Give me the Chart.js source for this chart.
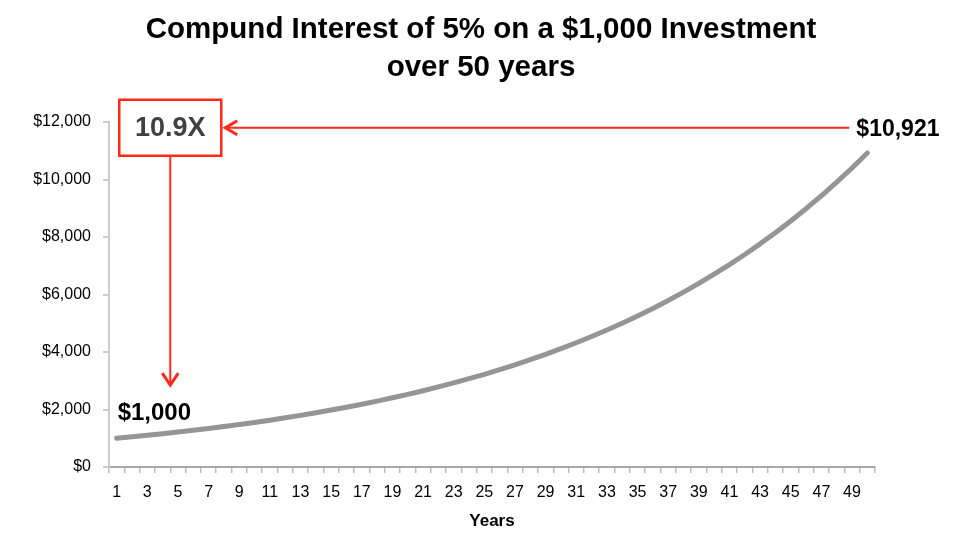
<!DOCTYPE html>
<html>
<head>
<meta charset="utf-8">
<script src="https://cdn.jsdelivr.net/npm/chart.js@4/dist/chart.umd.min.js"></script>
<style>
  html, body { margin: 0; padding: 0; background: #fff; }
  canvas { display: block; }
</style>
</head>
<body>
<canvas id="c" width="972" height="545"></canvas>
<script>
// ---- data ----
const years = [];
for (let i = 1; i <= 50; i++) years.push(String(i));
const values = [
  1000, 1050, 1103, 1158, 1216, 1276, 1340, 1407, 1477, 1551,
  1629, 1710, 1796, 1886, 1980, 2079, 2183, 2292, 2407, 2527,
  2653, 2786, 2925, 3072, 3225, 3386, 3556, 3733, 3920, 4116,
  4322, 4538, 4765, 5003, 5253, 5516, 5792, 6081, 6385, 6705,
  7040, 7392, 7762, 8150, 8557, 8985, 9434, 9906, 10401, 10921
];
const yTicks = [0, 2000, 4000, 6000, 8000, 10000, 12000];
const titleLines = ['Compund Interest of 5% on a $1,000 Investment', 'over 50 years'];
const xTitle = 'Years';

const FONT = "'Liberation Sans', Arial, Helvetica, sans-serif";
const RED = '#ff2a1a';
const money = v => '$' + Number(v).toLocaleString('en-US');

// pick font sizes so text widths match the reference
const mctx = document.createElement('canvas').getContext('2d');
function fitSize(text, weight, target, maxSize) {
  mctx.font = weight + ' 100px ' + FONT;
  const w = mctx.measureText(text).width;
  const s = Math.round(target / w * 100 * 2) / 2;
  return Math.min(s, maxSize);
}
const titleSize = fitSize(titleLines[0], 'bold', 672, 32);
const yTickSize = fitSize('$12,000', 'normal', 58, 18);
const xTickSize = fitSize('49', 'normal', 18, 18);
const xTitleSize = fitSize(xTitle, 'bold', 46, 19);
const ratioSize = fitSize('10.9X', 'bold', 71, 31);
const lastSize = fitSize('$10,921', 'bold', 84, 27);
const firstSize = fitSize('$1,000', 'bold', 73, 27);

function chevron(ctx, tx, ty, dx, dy, len, spread) {
  const px = -dy, py = dx;
  ctx.beginPath();
  ctx.moveTo(tx - dx * len + px * spread, ty - dy * len + py * spread);
  ctx.lineTo(tx, ty);
  ctx.lineTo(tx - dx * len - px * spread, ty - dy * len - py * spread);
  ctx.stroke();
}

const annotations = {
  id: 'annotations',
  afterDraw(chart) {
    const ctx = chart.ctx;
    const xs = chart.scales.x, ys = chart.scales.y;
    const n = values.length;
    const boxX = xs.getPixelForValue(3.5);
    const boxY = ys.getPixelForValue(11800);
    const halfW = 51, halfH = 28;
    ctx.save();
    // box with multiplier
    ctx.strokeStyle = RED;
    ctx.lineWidth = 2.5;
    ctx.strokeRect(boxX - halfW, boxY - halfH, halfW * 2, halfH * 2);
    ctx.fillStyle = '#404040';
    ctx.font = 'bold ' + ratioSize + 'px ' + FONT;
    ctx.textAlign = 'center';
    ctx.textBaseline = 'middle';
    ctx.fillText((values[n - 1] / values[0]).toFixed(1) + 'X', boxX, boxY + 1);

    // last value label
    const lastX = xs.getPixelForValue(n - 1);
    ctx.fillStyle = '#000';
    ctx.font = 'bold ' + lastSize + 'px ' + FONT;
    ctx.textAlign = 'left';
    ctx.fillText(money(values[n - 1]), lastX - 11, boxY + 2);

    // horizontal arrow
    ctx.strokeStyle = RED;
    ctx.lineWidth = 2;
    ctx.beginPath();
    ctx.moveTo(lastX - 18, boxY);
    ctx.lineTo(boxX + halfW + 4, boxY);
    ctx.stroke();
    ctx.lineWidth = 3;
    chevron(ctx, boxX + halfW + 4, boxY, -1, 0, 12, 7);

    // vertical arrow
    const tipY = ys.getPixelForValue(2850);
    ctx.lineWidth = 2;
    ctx.beginPath();
    ctx.moveTo(boxX, boxY + halfH);
    ctx.lineTo(boxX, tipY);
    ctx.stroke();
    ctx.lineWidth = 3;
    chevron(ctx, boxX, tipY, 0, 1, 12, 8);

    // first value label
    const firstX = xs.getPixelForValue(0);
    ctx.fillStyle = '#000';
    ctx.font = 'bold ' + firstSize + 'px ' + FONT;
    ctx.textAlign = 'left';
    ctx.fillText(money(values[0]), firstX + 1, ys.getPixelForValue(values[0]) - 25);
    ctx.restore();
  }
};

new Chart(document.getElementById('c'), {
  type: 'line',
  data: {
    labels: years,
    datasets: [{
      data: values,
      borderColor: '#959595',
      borderWidth: 5,
      borderCapStyle: 'round',
      borderJoinStyle: 'round',
      pointRadius: 0,
      tension: 0,
      fill: false
    }]
  },
  options: {
    responsive: false,
    devicePixelRatio: 1,
    animation: false,
    layout: { padding: { left: 0, right: 10, top: 0, bottom: 0 } },
    plugins: {
      legend: { display: false },
      tooltip: { enabled: false },
      title: {
        display: true,
        text: titleLines,
        color: '#000',
        font: { family: FONT, size: titleSize, weight: 'bold', lineHeight: 38 / titleSize },
        padding: { top: 11, bottom: 35 }
      }
    },
    scales: {
      x: {
        type: 'category',
        offset: true,
        grid: { offset: true, drawOnChartArea: false, drawTicks: true, tickLength: 6, color: '#bdbdbd', lineWidth: 1.5 },
        border: { display: true, color: '#a8a8a8', width: 2 },
        ticks: {
          autoSkip: false, maxRotation: 0, minRotation: 0, padding: 10,
          color: '#000', font: { family: FONT, size: xTickSize },
          callback: (v, i) => (i % 2 === 0 ? years[i] : '')
        },
        title: {
          display: true, text: xTitle, color: '#000',
          font: { family: FONT, size: xTitleSize, weight: 'bold' },
          padding: { top: 4, bottom: 13 }
        },
        afterFit: s => { s.height = 78; }
      },
      y: {
        min: 0, max: 12000,
        afterBuildTicks: s => { s.ticks = yTicks.map(v => ({ value: v })); },
        grid: { drawOnChartArea: false, drawTicks: true, tickLength: 6, color: '#cccccc', lineWidth: 2 },
        border: { display: true, color: '#cccccc', width: 2 },
        ticks: {
          padding: 12, color: '#000', font: { family: FONT, size: yTickSize },
          callback: v => money(v)
        },
        afterFit: s => { s.width = 109; }
      },
      yR: {
        type: 'linear',
        position: 'right',
        display: true,
        grid: { display: false, drawTicks: false },
        border: { display: false },
        ticks: { display: false },
        afterFit: s => { s.width = 87; }
      }
    }
  },
  plugins: [annotations]
});
</script>
</body>
</html>
